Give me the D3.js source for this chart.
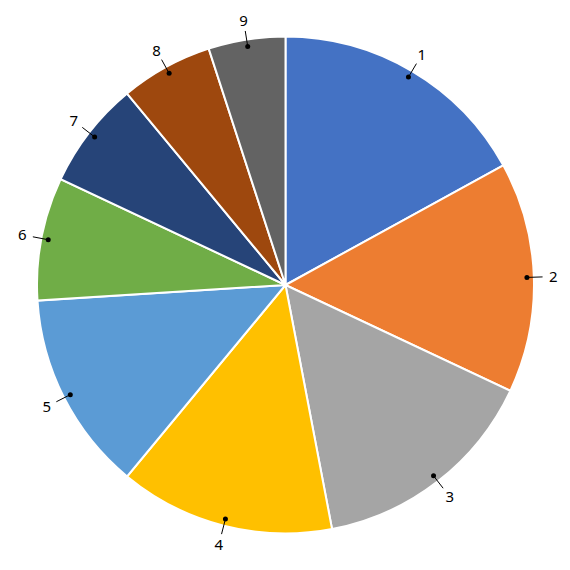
<!DOCTYPE html>
<html>
<head>
<meta charset="utf-8">
<script src="https://cdn.jsdelivr.net/npm/d3@7"></script>
<style>
  body { margin: 0; background: #fff; }
  text { font-family: "Noto Sans", sans-serif; font-size: 15px; fill: #000; }
</style>
</head>
<body>
<div id="chart"></div>
<script>
var width = 570, height = 570,
    cx = 285.5, cy = 285,
    radius = 248.5;

var labels = ['1', '2', '3', '4', '5', '6', '7', '8', '9'],
    values = [17, 15, 15, 14, 13, 8, 7, 6, 5],
    color_scale = ['#4472C4', '#ED7D31', '#A5A5A5', '#FFC000', '#5B9BD5', '#70AD47', '#264478', '#9E480E', '#636363'];

var colors = d3.scaleOrdinal()
    .domain(labels)
    .range(color_scale);

var pie = d3.pie()
    .sort(null)
    .value(function(d) { return d; });

var arc = d3.arc()
    .innerRadius(0)
    .outerRadius(radius);

var svg = d3.select("#chart").append("svg")
    .attr("width", width)
    .attr("height", height)
    .append("g")
    .attr("transform", "translate(" + cx + "," + cy + ")");

var slices = pie(values);

svg.selectAll("path.slice")
    .data(slices)
    .enter().append("path")
    .attr("class", "slice")
    .style("fill", function(d, i) { return colors(labels[i]); })
    .style("stroke", "#fff")
    .style("stroke-width", 2)
    .attr("d", arc);

// point on the mid angle at a given radius
function at(d, r) {
    var a = (d.startAngle + d.endAngle) / 2;
    return [Math.sin(a) * r, -Math.cos(a) * r];
}

var lbl = svg.selectAll("g.lbl")
    .data(slices)
    .enter().append("g")
    .attr("class", "lbl");

lbl.append("line")
    .attr("x1", function(d) { return at(d, radius * 0.972)[0]; })
    .attr("y1", function(d) { return at(d, radius * 0.972)[1]; })
    .attr("x2", function(d) { return at(d, radius * 1.035)[0]; })
    .attr("y2", function(d) { return at(d, radius * 1.035)[1]; })
    .style("stroke", "#000")
    .style("stroke-width", 1);

lbl.append("circle")
    .attr("cx", function(d) { return at(d, radius * 0.972)[0]; })
    .attr("cy", function(d) { return at(d, radius * 0.972)[1]; })
    .attr("r", 2.5)
    .style("fill", "#000");

lbl.append("text")
    .attr("x", function(d) { return at(d, radius * 1.078)[0]; })
    .attr("y", function(d) { return at(d, radius * 1.078)[1]; })
    .attr("dy", "0.36em")
    .attr("text-anchor", "middle")
    .text(function(d, i) { return labels[i]; });
</script>
</body>
</html>
